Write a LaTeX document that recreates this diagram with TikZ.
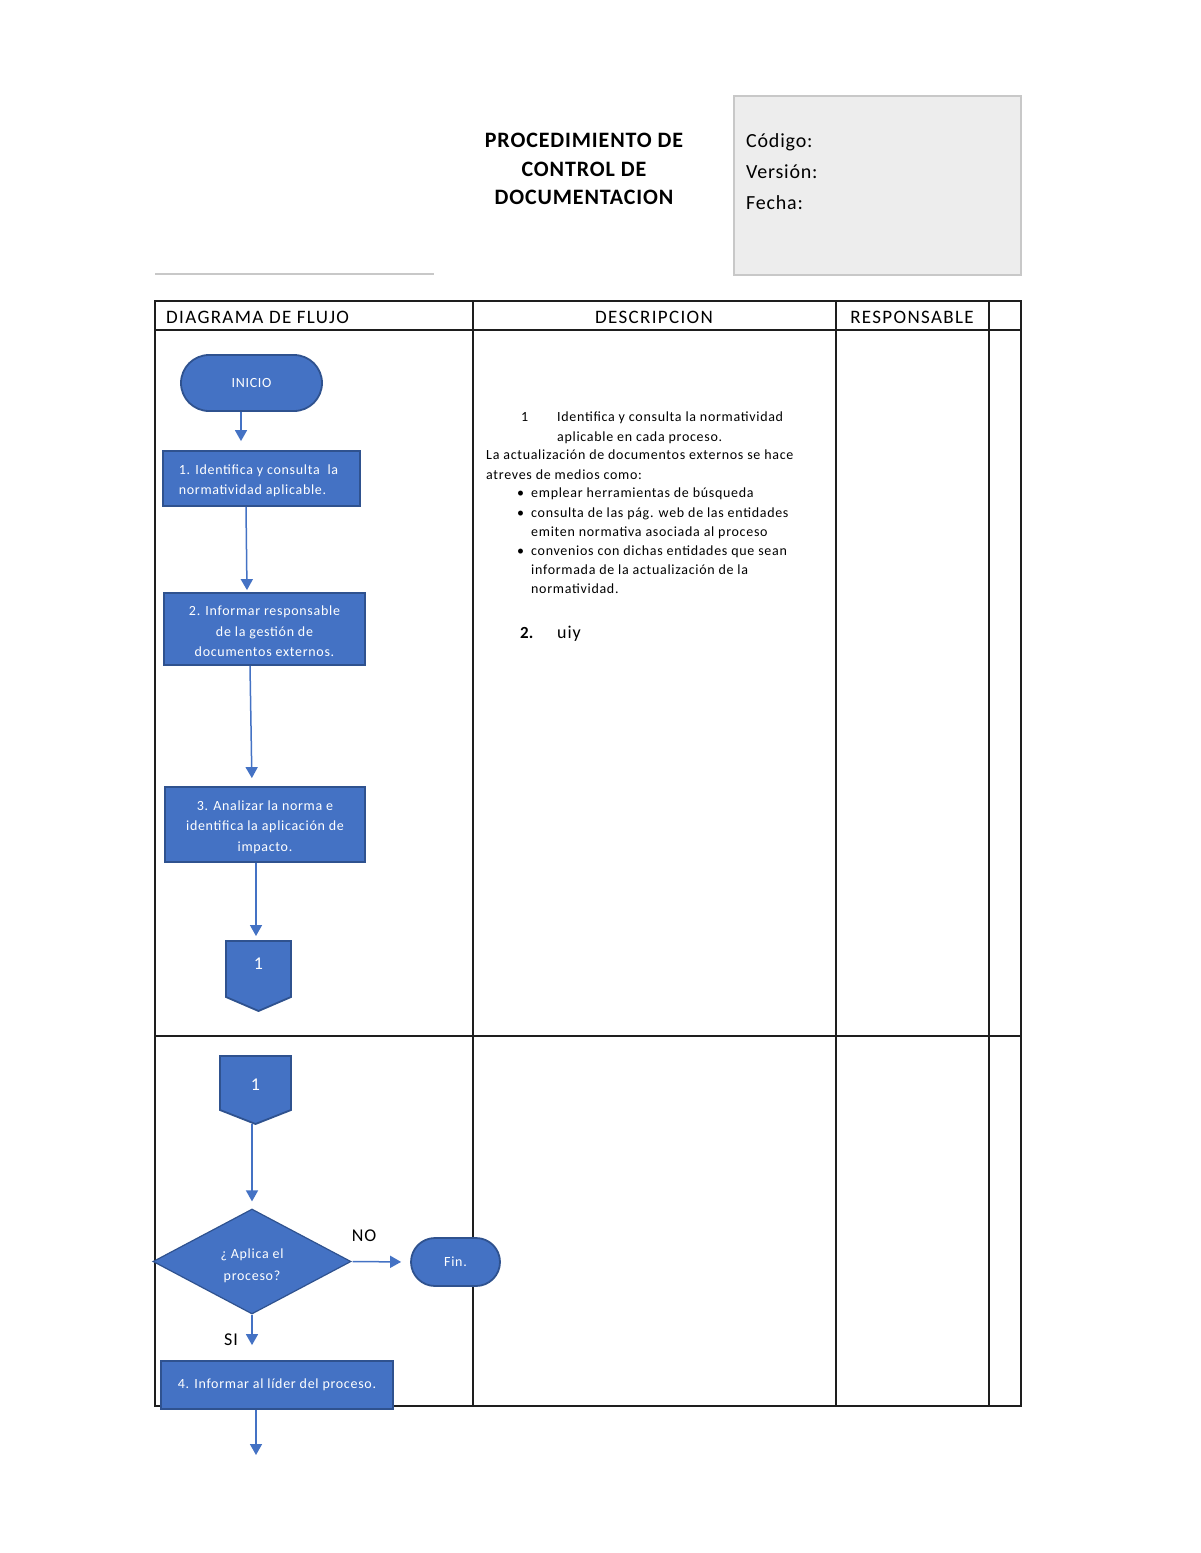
\documentclass[tikz,border=0pt]{standalone}
\usepackage{fontspec}
\setmainfont{Carlito}
\newfontfamily\fA{Carlito}[LetterSpace=5]
\newfontfamily\fB{Carlito}[LetterSpace=4]
\newfontfamily\fC{Carlito}[LetterSpace=7]
\usetikzlibrary{shapes.misc,shapes.geometric,arrows.meta}
\definecolor{bfill}{HTML}{4472C4}
\definecolor{bline}{HTML}{2F528F}
\definecolor{hdrgray}{HTML}{EDEDED}
\definecolor{hdrline}{HTML}{C8C8C8}
\definecolor{tline}{HTML}{1E1E1E}
\newcommand\fsz[2]{\fontsize{#1pt}{#2pt}\selectfont}
\begin{document}
\begin{tikzpicture}[x=1pt,y=-1pt,
  proc/.style={rectangle, draw=bline, fill=bfill, line width=1.8pt, text=white,
    font=\fA\fsz{14}{20.5}, align=center, inner sep=0pt},
  boxtext/.style={text=white, font=\fA\fsz{14}{20.5}, align=center, inner sep=0pt, yshift=-2.5pt},
  dectext/.style={text=white, font=\fA\fsz{14}{22}, align=center, inner sep=0pt, yshift=-4pt},
  term/.style={rounded rectangle, draw=bline, fill=bfill, line width=1.8pt, text=white,
    font=\fA\fsz{14}{20}, inner sep=0pt},
  dec/.style={diamond, draw=bline, fill=bfill, line width=1.2pt, inner sep=0pt, aspect=1.886},
  conn/.style={draw=bline, fill=bfill, line width=1.8pt},
  conntext/.style={text=white, font=\fA\fsz{18}{20}, inner sep=0pt},
  arr/.style={draw=bfill, line width=1.5pt, -{Triangle[width=12pt,length=11pt]}},
  desc/.style={anchor=base west, font=\fA\fsz{14}{19}, inner sep=0pt},
  hdr/.style={font=\fC\fsz{19}{20}, inner sep=0pt},
  thick line/.style={draw=tline, line width=2.6pt},
  thin line/.style={draw=tline, line width=1.4pt}
]
\useasboundingbox (0,0) rectangle (1200,1553);
\fill[white] (0,0) rectangle (1200,1553);

% ---- header block ----
\draw[draw=hdrline, fill=hdrgray, line width=2.5pt] (734,96) rectangle (1021,275);
\draw[draw=hdrline, line width=2.5pt] (155,274) -- (434,274);
\node[font=\fB\bfseries\fsz{22}{28.5}, align=center, inner sep=0pt] (title) at (584,169)
  {PROCEDIMIENTO DE\\CONTROL DE\\DOCUMENTACION};
\node[anchor=west, font=\fB\fsz{20}{20}, inner sep=0pt] (cod) at (746,142) {Código:};
\node[anchor=west, font=\fB\fsz{20}{20}, inner sep=0pt] (ver) at (746,172) {Versión:};
\node[anchor=west, font=\fB\fsz{20}{20}, inner sep=0pt] (fec) at (746,203) {Fecha:};

% ---- table ----
\draw[thin line] (155,301) -- (155,1406);
\draw[thin line] (473,301) -- (473,1406);
\draw[thin line] (836,301) -- (836,1406);
\draw[thin line] (989,301) -- (989,1406);
\draw[thin line] (1021,301) -- (1021,1406);
\draw[thick line] (154,301) -- (1022,301);
\draw[thick line] (154,330) -- (1022,330);
\draw[thick line] (154,1036) -- (1022,1036);
\draw[thick line] (154,1406) -- (1022,1406);
\node[hdr, anchor=west] (h1) at (166,317) {DIAGRAMA DE FLUJO};
\node[hdr] (h2) at (654,317) {DESCRIPCION};
\node[hdr] (h3) at (912,317) {RESPONSABLE};

% ---- flow, first part ----
\node[term, minimum width=141pt, minimum height=56pt] (ini) at (251.5,383) {INICIO};
\node[proc, minimum width=197pt, minimum height=55pt,
  label={[boxtext, align=left, xshift=-3pt]center:{1. Identifica y consulta \ la\\normatividad aplicable.}}]
  (b1) at (261.5,478.5) {};
\node[proc, minimum width=201pt, minimum height=72pt,
  label={[boxtext]center:{2. Informar responsable\\de la gestión de\\documentos externos.}}]
  (b2) at (264.5,629) {};
\node[proc, minimum width=200pt, minimum height=75pt,
  label={[boxtext]center:{3. Analizar la norma e\\identifica la aplicación de\\impacto.}}]
  (b3) at (265,824.5) {};
\draw[conn] (226,941) -- (291,941) -- (291,997) -- (258.5,1011) -- (226,997) -- cycle;
\node[conntext] (c1) at (258.5,964) {1};
\coordinate (c1top) at (256,941);

\draw[arr, shorten >=9pt] ([xshift=-10.5pt]ini.south) -- ([xshift=-20.5pt]b1.north);
\draw[arr, shorten >=2pt] ([xshift=-15.5pt]b1.south) -- ([xshift=-17.5pt]b2.north);
\draw[arr, shorten >=8pt] ([xshift=-14.5pt]b2.south) -- ([xshift=-13pt]b3.north);
\draw[arr, shorten >=5pt] ([xshift=-9pt]b3.south) -- (c1top);

% ---- flow, second part ----
\draw[conn] (220,1056) -- (291,1056) -- (291,1110) -- (255.5,1124) -- (220,1110) -- cycle;
\node[conntext] (c2) at (255.5,1085) {1};
\coordinate (c2bot) at (252,1124);
\node[dec, minimum width=198pt, minimum height=105pt,
  label={[dectext]center:{¿ Aplica el\\proceso?}}] (d1) at (252,1261.5) {};
\node[term, minimum width=89pt, minimum height=48pt] (fin) at (455.5,1262) {Fin.};
\node[proc, minimum width=232pt, minimum height=48pt] (b4) at (277,1385)
  {4. Informar al líder del proceso.};
\coordinate (endpt) at (256,1455);

\draw[arr, shorten >=7pt] (c2bot) -- (d1.north);
\draw[arr, shorten <=1pt, shorten >=9pt] (d1.east) -- (fin.west);
\draw[arr, shorten >=15pt] (d1.south) -- ([xshift=-25pt]b4.north);
\draw[arr] ([xshift=-21pt]b4.south) -- (endpt);
\node[font=\fA\fsz{18}{20}, inner sep=0pt] (no) at (364,1236) {NO};
\node[font=\fA\fsz{18}{20}, inner sep=0pt] (si) at (231,1340) {SI};

% ---- description ----
\node[desc] (n1) at (521,421.5) {1};
\node[desc] (t1a) at (557,421.5) {Identifica y consulta la normatividad};
\node[desc] (t1b) at (557,441.5) {aplicable en cada proceso.};
\node[desc] (t2) at (486,459.5) {La actualización de documentos externos se hace};
\node[desc] (t3) at (486,479.5) {atreves de medios como:};
\node[desc] (bu1) at (517,497.5) {•};
\node[desc] (t4) at (531,497.5) {emplear herramientas de búsqueda};
\node[desc] (bu2) at (517,517.5) {•};
\node[desc] (t5) at (531,517.5) {consulta de las pág. web de las entidades};
\node[desc] (t6) at (531,536.5) {emiten normativa asociada al proceso};
\node[desc] (bu3) at (517,555.5) {•};
\node[desc] (t7) at (531,555.5) {convenios con dichas entidades que sean};
\node[desc] (t8) at (531,574.5) {informada de la actualización de la};
\node[desc] (t9) at (531,593.5) {normatividad.};
\node[anchor=base west, font=\bfseries\fsz{17}{20}, inner sep=0pt] (n2) at (520,638) {2.};
\node[anchor=base west, font=\fA\fsz{18}{20}, inner sep=0pt] (uiy) at (557,638) {uiy};
\end{tikzpicture}
\end{document}
